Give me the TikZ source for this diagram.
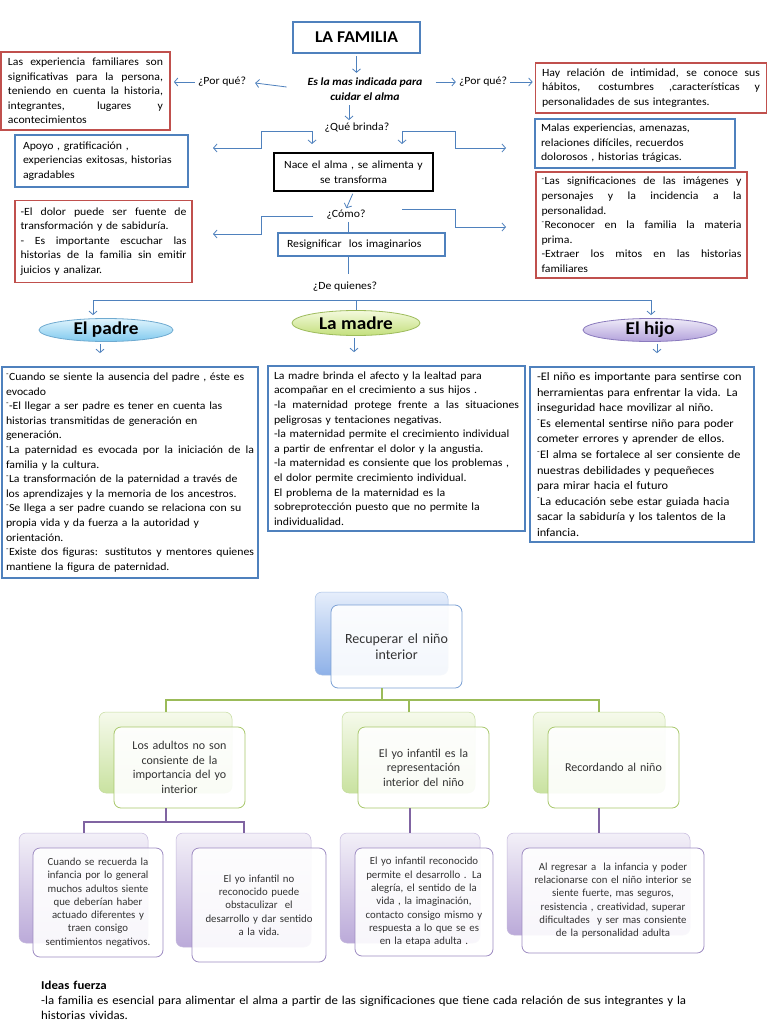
\documentclass[tikz,border=0pt]{standalone}
\usepackage{fontspec}
\setmainfont{Carlito}
\newfontfamily\wide{Carlito}[FakeStretch=1.07]
\usetikzlibrary{arrows.meta,shapes.geometric,calc}
\definecolor{lblue}{HTML}{4F81BD}
\definecolor{bred}{HTML}{C0504D}
\definecolor{sbBd}{HTML}{A7C0E5}\definecolor{sbBt}{HTML}{E6EEFB}\definecolor{sbBb}{HTML}{8EB1E8}\definecolor{sbBf}{HTML}{7BA0D4}
\definecolor{sbGd}{HTML}{C5DC9E}\definecolor{sbGt}{HTML}{F6FAEC}\definecolor{sbGb}{HTML}{C9E2A0}\definecolor{sbGf}{HTML}{A8C86B}\definecolor{gline}{HTML}{9BBB59}
\definecolor{sbPd}{HTML}{C4B8DC}\definecolor{sbPt}{HTML}{F3F0F8}\definecolor{sbPb}{HTML}{BBAAD9}\definecolor{sbPf}{HTML}{9E8CC2}\definecolor{pline}{HTML}{8064A2}
\definecolor{e1t}{HTML}{E0F4FD}\definecolor{e1b}{HTML}{7FC9EE}\definecolor{e1d}{HTML}{6FAAD0}
\definecolor{e2t}{HTML}{F4FADD}\definecolor{e2b}{HTML}{C3DF7C}\definecolor{e2d}{HTML}{9DBB5C}
\definecolor{e3t}{HTML}{EFEBF8}\definecolor{e3b}{HTML}{B2A1DB}\definecolor{e3d}{HTML}{8A7ABD}
\newcommand\jl[2]{{\spaceskip=0pt\xspaceskip=0pt\makebox[#1pt][s]{#2}}}
\newcommand\sbul{\textsuperscript{-}}
\begin{document}
\begin{tikzpicture}[x=1pt,y=-1pt,
  base/.style={font=\wide\fontsize{11}{14.6}\selectfont, text=black},
  bx/.style={base, draw, line width=1.7pt, inner xsep=6pt, inner ysep=1pt, align=left},
  redb/.style={bx, draw=bred},
  blueb/.style={bx, draw=lblue},
  lbl/.style={base, inner sep=1pt},
  arr/.style={draw=lblue, line width=0.8pt, -{Straight Barb[length=3.5pt,width=8pt]}},
  ln/.style={draw=lblue, line width=0.8pt},
  ell/.style={ellipse, line width=0.8pt, inner sep=0pt, font=\wide\bfseries\fontsize{18}{20}\selectfont},
  backB/.style={rounded corners=7pt, draw=sbBd, top color=sbBt, bottom color=sbBb, line width=0.5pt},
  frontB/.style={rounded corners=7pt, draw=sbBf, fill=white, fill opacity=0.9, text opacity=1, line width=0.8pt, align=center, text=black!80},
  backG/.style={rounded corners=7pt, draw=sbGd, top color=sbGt, bottom color=sbGb, line width=0.5pt},
  frontG/.style={rounded corners=7pt, draw=sbGf, fill=white, fill opacity=0.9, text opacity=1, line width=0.8pt, align=center, text=black!80, font=\fontsize{12}{14.5}\selectfont},
  backP/.style={rounded corners=7pt, draw=sbPd, top color=sbPt, bottom color=sbPb, line width=0.5pt},
  frontP/.style={rounded corners=7pt, draw=sbPf, fill=white, fill opacity=0.9, text opacity=1, line width=0.8pt, align=center, text=black!80, font=\fontsize{10.8}{13.3}\selectfont},
  gln/.style={draw=gline, line width=2pt},
  pln/.style={draw=pline, line width=2pt}
]
\fill[white] (0,0) rectangle (768,1024);

% ---------- top ----------
\node[blueb, line width=2.2pt, minimum width=127pt, minimum height=31pt, align=center,
      font=\wide\bfseries\fontsize{16.5}{18}\selectfont] (fam) at (356.5,37.5) {LA FAMILIA};
\node[lbl, align=center, font=\wide\bfseries\itshape\fontsize{11}{15}\selectfont] (alma) at (365,89.5) {Es la mas indicada para\\cuidar el alma};
\node[lbl] (pq1) at (222,82) {¿Por qué?};
\node[lbl] (pq2) at (483,82) {¿Por qué?};

\node[redb, minimum width=169pt, minimum height=78pt, text width=155pt] (r1) at (85.5,91) {%
\jl{155}{Las experiencia familiares son}\\
\jl{155}{significativas para la persona,}\\
\jl{155}{teniendo en cuenta la historia,}\\
\jl{155}{integrantes, lugares y}\\
acontecimientos};
\node[redb, minimum width=231pt, minimum height=50pt, text width=218pt] (r2) at (651,88) {%
\jl{218}{Hay relación de intimidad, se conoce sus}\\
\jl{218}{hábitos, costumbres ,características y}\\
personalidades de sus integrantes.};

\draw[arr, shorten <=2pt, shorten >=4pt] (fam.south) -- (fam.south |- alma.north);
\draw[arr, shorten <=20pt, shorten >=8pt] (alma.west) -- (pq1.east);
\draw[arr, shorten <=2pt, shorten >=3pt] (pq1.west) -- (pq1.west -| r1.east);
\draw[arr, shorten <=12pt, shorten >=2pt] (pq2.west -| alma.east) -- (pq2.west);
\draw[arr, shorten <=2pt, shorten >=2pt] (pq2.east) -- (pq2.east -| r2.west);

\node[lbl] (qb) at (357,128) {¿Qué brinda?};
\draw[arr, shorten <=3pt, shorten >=2pt] (alma.south -| 349,0) -- (qb.north -| 349,0);

\node[bx, draw=black, line width=2pt, minimum width=159pt, minimum height=38pt, text width=145pt, align=center] (nace) at (353.5,172) {Nace el alma , se alimenta y\\se transforma};
\node[blueb, minimum width=173pt, minimum height=52pt, text width=157pt] (b1) at (101.5,161) {%
Apoyo , gratificación ,\\experiencias exitosas, historias\\agradables};
\node[blueb, minimum width=200pt, minimum height=49pt, text width=188pt] (b2) at (635,143.5) {%
Malas experiencias, amenazas,\\relaciones difíciles, recuerdos\\dolorosos , historias trágicas.};

\coordinate (qbl) at (312,131);
\coordinate (qbr) at (402,131);
\coordinate (b1in) at (213,148);
\coordinate (b2in) at (506,148);
\draw[arr, shorten >=8pt] (qbl) -- (qbl |- nace.north);
\draw[arr, shorten >=8pt] (qbr) -- (qbr |- nace.north);
\draw[arr] (qbl) -- ++(-51,0) |- (b1in);
\draw[arr] (qbr) -- ++(53,0) |- (b2in);

\node[lbl] (como) at (346,215) {¿Cómo?};
\draw[arr, shorten <=2pt, shorten >=1pt] (nace.south) -- (como.north);
\node[blueb, minimum width=167pt, minimum height=23pt, text width=149pt, inner xsep=9pt] (resig) at (361.5,244.5) {Resignificar\ \ los imaginarios};
\node[redb, minimum width=177pt, minimum height=82pt, text width=166pt, inner xsep=5pt] (r3) at (103.5,241.5) {%
\jl{166}{-El dolor puede ser fuente de}\\
transformación y de sabiduría.\\
\jl{166}{- Es importante escuchar las}\\
\jl{166}{historias de la familia sin emitir}\\
juicios y analizar.};
\node[redb, minimum width=211pt, minimum height=106pt, text width=200pt, inner xsep=5pt] (r4) at (641.5,225) {%
\jl{200}{\sbul Las significaciones de las imágenes y}\\
\jl{200}{personajes y la incidencia a la}\\
personalidad.\\
\jl{200}{\sbul Reconocer en la familia la materia}\\
prima.\\
\jl{200}{-Extraer los mitos en las historias}\\
familiares};

\coordinate (cl) at (313,216);
\coordinate (cr) at (402,209);
\coordinate (r3in) at (213,234);
\coordinate (r4in) at (506,227);
\draw[arr] (cl) -- ++(-52,0) |- (r3in);
\draw[arr] (cr) -- ++(53,0) |- (r4in);
\draw[ln, shorten <=1pt] (como.south -| 348,0) -- (resig.north -| 348,0);

\node[lbl] (dq) at (345,287) {¿De quienes?};
\draw[ln, shorten >=7pt] (resig.south -| 348,0) -- (dq.north -| 348,0);

% ---------- ellipses ----------
\node[ell, draw=e1d, top color=e1t, bottom color=e1b, minimum width=134pt, minimum height=23pt] (e1) at (106,330) {El padre};
\node[ell, draw=e2d, top color=e2t, bottom color=e2b, minimum width=128pt, minimum height=25pt] (e2) at (356,323) {La madre};
\node[ell, draw=e3d, top color=e3t, bottom color=e3b, minimum width=134pt, minimum height=23pt] (e3) at (650,330) {El hijo};

\coordinate (busL) at (93,300);
\coordinate (busR) at (651,300);
\draw[ln] (busL) -- (busR);
\draw[arr, shorten >=3pt] (busL) -- (busL |- e1.north);
\draw[ln] (busL -| e2.north) -- (e2.north);
\draw[arr, shorten >=3pt] (busR) -- (busR |- e3.north);

% ---------- text boxes ----------
\node[blueb, minimum width=256pt, minimum height=211pt, text width=248pt, inner xsep=4pt] (t1) at (130,472.5) {%
\sbul Cuando se siente la ausencia del padre , éste es\\
evocado\\
\sbul -El llegar a ser padre es tener en cuenta las\\
historias transmitidas de generación en\\
generación.\\
\jl{248}{\sbul La paternidad es evocada por la iniciación de la}\\
familia y la cultura.\\
\sbul La transformación de la paternidad a través de\\
los aprendizajes y la memoria de los ancestros.\\
\sbul Se llega a ser padre cuando se relaciona con su\\
propia vida y da fuerza a la autoridad y\\
orientación.\\
\jl{248}{\sbul Existe dos figuras: sustitutos y mentores quienes}\\
mantiene la figura de paternidad.};
\node[blueb, minimum width=257pt, minimum height=165pt, text width=245pt] (t2) at (396.5,448.5) {%
La madre brinda el afecto y la lealtad para\\
acompañar en el crecimiento a sus hijos .\\
\jl{245}{-la maternidad protege frente a las situaciones}\\
peligrosas y tentaciones negativas.\\
-la maternidad permite el crecimiento individual\\
a partir de enfrentar el dolor y la angustia.\\
-la maternidad es consiente que los problemas ,\\
el dolor permite crecimiento individual.\\
El problema de la maternidad es la\\
sobreprotección puesto que no permite la\\
individualidad.};
\node[blueb, minimum width=224pt, minimum height=175pt, text width=210pt, inner xsep=7pt, font=\wide\fontsize{11.5}{15.6}\selectfont] (t3) at (642,454.5) {%
-El niño es importante para sentirse con\\
herramientas para enfrentar la vida. La\\
inseguridad hace movilizar al niño.\\
\sbul Es elemental sentirse niño para poder\\
cometer errores y aprender de ellos.\\
\sbul El alma se fortalece al ser consiente de\\
nuestras debilidades y pequeñeces\\
para mirar hacia el futuro\\
\sbul La educación sebe estar guiada hacia\\
sacar la sabiduría y los talentos de la\\
infancia.};

\draw[arr, shorten <=2pt, shorten >=13pt] ([xshift=-6pt]e1.south) -- ([xshift=-6pt]e1.south |- t1.north);
\draw[arr, shorten <=2pt, shorten >=13pt] ([xshift=-2pt]e2.south) -- ([xshift=-2pt]e2.south |- t2.north);
\draw[arr, shorten <=2pt, shorten >=13pt] ([xshift=7pt]e3.south) -- ([xshift=7pt]e3.south |- t3.north);

% ---------- hierarchy ----------
\node[backB, minimum width=133pt, minimum height=83pt] (tb) at (381.5,633.5) {};
\node[frontB, minimum width=131pt, minimum height=83pt, text width=115pt, font=\fontsize{14}{16.5}\selectfont] (tf) at (396.5,646.5) {Recuperar el niño\\interior};

\node[backG, minimum width=133pt, minimum height=81pt] (gb1) at (165.5,752.5) {};
\node[frontG, minimum width=131pt, minimum height=81pt, text width=118pt] (gf1) at (179.5,767.5) {Los adultos no son\\consiente de la\\importancia del yo\\interior};
\node[backG, minimum width=133pt, minimum height=81pt] (gb2) at (408.5,752.5) {};
\node[frontG, minimum width=131pt, minimum height=81pt, text width=118pt] (gf2) at (423.5,767.5) {El yo infantil es la\\representación\\interior del niño};
\node[backG, minimum width=132pt, minimum height=81pt] (gb3) at (599,752.5) {};
\node[frontG, minimum width=131pt, minimum height=81pt, text width=118pt] (gf3) at (613.5,767.5) {Recordando al niño};

\draw[gln] (tf.south -| tb.south) -- ++(0,12) -| (gb1.north);
\draw[gln] (tf.south -| tb.south) -- ++(0,12) -| (gb2.north);
\draw[gln] (tf.south -| tb.south) -- ++(0,12) -| (gb3.north);

\node[backP, minimum width=129pt, minimum height=110pt] (pb1) at (83.5,888) {};
\node[frontP, minimum width=130pt, minimum height=109pt, text width=120pt] (pf1) at (98,902.5) {Cuando se recuerda la\\infancia por lo general\\muchos adultos siente\\que deberían haber\\actuado diferentes y\\traen consigo\\sentimientos negativos.};
\node[backP, minimum width=135pt, minimum height=114pt] (pb2) at (243.5,890) {};
\node[frontP, minimum width=134pt, minimum height=114pt, text width=124pt] (pf2) at (259,905) {El yo infantil no\\reconocido puede\\obstaculizar\ \ el\\desarrollo y dar sentido\\a la vida.};
\node[backP, minimum width=140pt, minimum height=110pt] (pb3) at (410,888) {};
\node[frontP, minimum width=138pt, minimum height=108pt, text width=128pt] (pf3) at (424,902) {El yo infantil reconocido\\permite el desarrollo . La\\alegría, el sentido de la\\vida , la imaginación,\\contacto consigo mismo y\\respuesta a lo que se es\\en la etapa adulta .};
\node[backP, minimum width=183pt, minimum height=102pt] (pb4) at (598.5,884) {};
\node[frontP, minimum width=182pt, minimum height=105pt, text width=172pt] (pf4) at (613,900.5) {Al regresar a\ \ la infancia y poder\\relacionarse con el niño interior se\\siente fuerte, mas seguros,\\resistencia , creatividad, superar\\dificultades\ \ y ser mas consiente\\de la personalidad adulta};

\draw[pln] (gf1.south -| gb1.south) -- ++(0,14) -| (pb1.north);
\draw[pln] (gf1.south -| gb1.south) -- ++(0,14) -| (pb2.north);
\draw[pln] (gf2.south -| pb3.north) -- (pb3.north);
\draw[pln] (gf3.south -| pb4.north) -- (pb4.north);

\node[anchor=north west, inner sep=0pt, text width=646pt, align=left, text=black, font=\wide\fontsize{12}{14.8}\selectfont] (ideas) at (41,981) {%
\textbf{Ideas fuerza}\\
\jl{645}{-la familia es esencial para alimentar el alma a partir de las significaciones que tiene cada relación de sus integrantes y la}\\
historias vividas.};
\end{tikzpicture}
\end{document}
